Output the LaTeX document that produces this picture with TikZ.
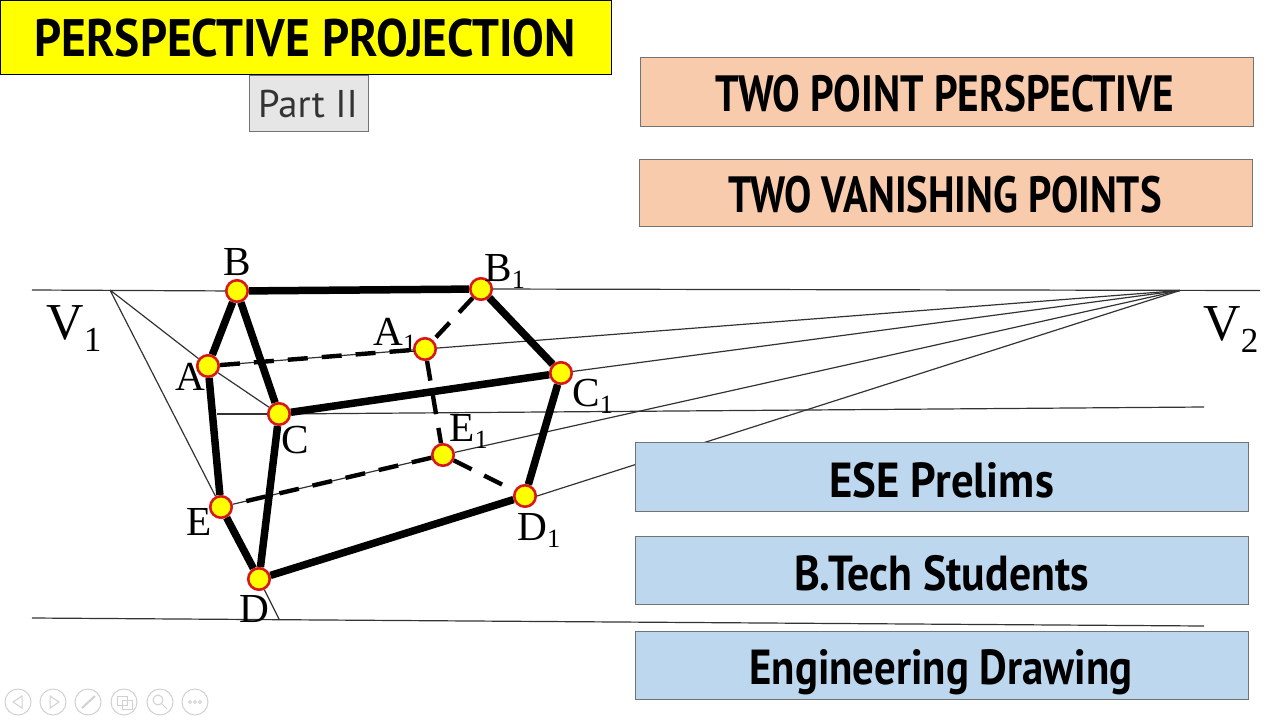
\documentclass[tikz,border=0pt]{standalone}
\usepackage{fontspec}
\setmainfont{Liberation Serif}
\newfontfamily\boxfont{PT Sans}
\def\U{0.02cm}
\definecolor{orangebox}{HTML}{F8CBAD}
\definecolor{bluebox}{HTML}{BDD7EE}
\definecolor{greybox}{HTML}{E7E6E6}
\definecolor{pointred}{HTML}{D81818}
\definecolor{pureyellow}{HTML}{FFFF00}
\tikzset{
	point/.style={circle, fill=pureyellow, draw=pointred, line width=2.6*\U, inner sep=0, minimum size=21.5*\U},
	edge/.style={line width=7.5*\U},
	hidden/.style={line width=4.4*\U, dash pattern=on 20*\U off 14*\U},
	thinline/.style={line width=1.2*\U, black!80},
	plainbox/.style={draw=black!55, line width=1*\U, inner sep=0},
	headbox/.style={plainbox, fill=orangebox, minimum width=613*\U},
	topicbox/.style={plainbox, fill=bluebox, minimum width=613*\U},
	boxtext/.style={inner sep=0, text depth=0pt, font=\boxfont\bfseries\fontsize{#1}{#1}\selectfont, text height=0.7*#1 pt},
	ptlabel/.style={anchor=base west, inner sep=0, font=\fontsize{23.5}{23.5}\selectfont},
	vlabel/.style={anchor=base west, inner sep=0, font=\fontsize{29.5}{29.5}\selectfont},
	navicon/.style={line width=1*\U, black!18}
}
\newcommand{\subs}[2]{#1\raisebox{-4pt}{\fontsize{#2}{#2}\selectfont 1}}
\begin{document}
\begin{tikzpicture}[x=\U, y=-\U]
	\useasboundingbox (0,0) rectangle (1280,720);
	% points of the solid
	\node [point] (B) at (237,291) {};
	\node [point] (A) at (208,366) {};
	\node [point] (C) at (279,414) {};
	\node [point] (E) at (221,507) {};
	\node [point] (D) at (259,579) {};
	\node [point] (B1) at (481,289) {};
	\node [point] (A1) at (425,349) {};
	\node [point] (C1) at (561,373) {};
	\node [point] (E1) at (443,455) {};
	\node [point] (D1) at (525,496) {};
	\coordinate (V1) at (110,290);
	\coordinate (V2) at (1180,290.5);
	\coordinate (hl) at (32,290);
	\coordinate (hr) at (1260,290.5);
	\coordinate (ml) at (217,414);
	\coordinate (mr) at (1204,407);
	\coordinate (gl) at (32,618);
	\coordinate (gr) at (1204,626);
	\coordinate (gd) at (279,619);
	% construction lines
	\draw [thinline] (hl) -- (B);
	\draw [thinline] (B1) -- (hr);
	\draw [thinline] (gl) -- (gr);
	\draw [thinline] (ml) -- (C);
	\draw [thinline] (C) -- (mr);
	\draw [thinline] (V1) -- (A) (A) -- (C) (V1) -- (E) (D) -- (gd);
	\foreach \p in {A1,C1,E1,D1.east}
		\draw [thinline] (\p) -- (V2);
	\draw [thinline] (A) -- (A1) (E) -- (E1);
	% visible edges
	\foreach \a/\b in {B/B1,B/A,B/C,A/E,C/D,C/C1,E/D,D/D1,B1/C1,C1/D1}
		\draw [edge] (\a) -- (\b);
	% hidden edges
	\foreach \a/\b in {A/A1,B1/A1,A1/E1,E1/E,E1/D1}
		\draw [hidden] (\a) -- (\b);
	% point names
	\node [ptlabel] (lB) at (223,275) {B};
	\node [ptlabel] (lA) at (175,390) {A};
	\node [ptlabel] (lC) at (281,453) {C};
	\node [ptlabel] (lE) at (186,535) {E};
	\node [ptlabel] (lD) at (239,622) {D};
	\node [ptlabel] (lB1) at (484,281) {\subs{B}{15}};
	\node [ptlabel] (lA1) at (373,345) {\subs{A}{15}};
	\node [ptlabel] (lC1) at (572,406) {\subs{C}{15}};
	\node [ptlabel] (lE1) at (449,441) {\subs{E}{15}};
	\node [ptlabel] (lD1) at (517,540) {\subs{D}{15}};
	\node [vlabel] (lV1) at (46,339) {V\raisebox{-7pt}{\fontsize{20}{20}\selectfont 1}};
	\node [vlabel] (lV2) at (1203,340) {V\raisebox{-7pt}{\fontsize{20}{20}\selectfont 2}};
	% boxes
	\node [plainbox, draw=black, fill=pureyellow, minimum width=611*\U, minimum height=74*\U] (title) at (305.5,37) {};
	\node [boxtext=30, xscale=0.9] (titletext) at (305,38.5) {PERSPECTIVE PROJECTION};
	\node [plainbox, fill=greybox, minimum width=119*\U, minimum height=56*\U] (part) at (308.5,103) {};
	\node [inner sep=0, text height=15.5pt, text depth=0pt, text=black!80, font=\boxfont\fontsize{22}{22}\selectfont] (parttext) at (308,104) {Part II};
	\node [headbox, minimum height=69*\U] (two1) at (946.5,91.5) {};
	\node [headbox, minimum height=67*\U] (two2) at (946,192.5) {};
	\node [topicbox, minimum height=69*\U] (ese) at (941.5,476.5) {};
	\node [topicbox, minimum height=68*\U] (btech) at (941.5,570) {};
	\node [topicbox, minimum height=68*\U] (engg) at (941.5,665) {};
	\node [boxtext=29, xscale=0.81] (two1text) at (945,94) {TWO POINT PERSPECTIVE};
	\node [boxtext=29, xscale=0.80] (two2text) at (945,195) {TWO VANISHING POINTS};
	\node [boxtext=28, xscale=0.91] (esetext) at (941.5,480) {ESE Prelims};
	\node [boxtext=28, xscale=0.89] (btechtext) at (941.5,573) {B.Tech Students};
	\node [boxtext=28, xscale=0.87] (enggtext) at (941,667) {Engineering Drawing};
	% slide controls
	\foreach \x in {18,53,88,124,160,195}
		\draw [navicon] (\x,702) circle (13);
	\draw [navicon] (22,696) -- (13,702) -- (22,708) -- cycle;
	\draw [navicon] (50,696) -- (59,702) -- (50,708) -- cycle;
	\draw [navicon, line width=2*\U] (82,708) -- (95,696);
	\draw [navicon] (117,696) rectangle (127,705) (122,700) rectangle (132,709);
	\draw [navicon] (158,700) circle (5) (162,704) -- (167,709);
	\foreach \x in {190,195,200}
		\draw [navicon] (\x,702) circle (1.5);
\end{tikzpicture}
\end{document}
